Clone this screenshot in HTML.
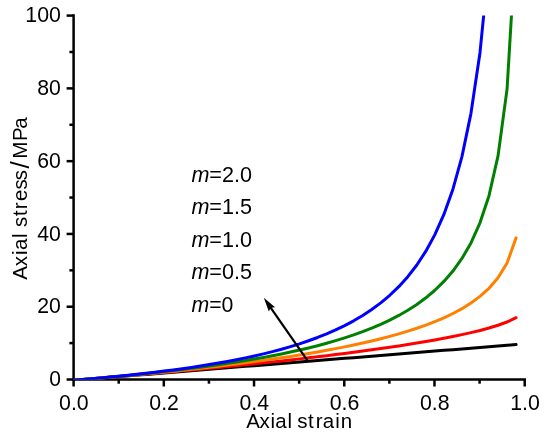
<!DOCTYPE html>
<html><head><meta charset="utf-8"><title>Axial stress vs axial strain</title>
<style>
html,body{margin:0;padding:0;background:#fff;}
svg{display:block;}
text{font-family:"Liberation Sans",sans-serif;font-size:21.3px;fill:#000;}
</style></head><body>
<svg width="550" height="435" viewBox="0 0 550 435">
<rect width="550" height="435" fill="#fff"/>
<defs><clipPath id="plot"><rect x="73.60" y="15.60" width="461.10" height="364.10"/></clipPath></defs>
<g stroke="#000" stroke-width="2.5" stroke-linecap="butt">
<line x1="73.60" y1="14.35" x2="73.60" y2="380.75"/>
<line x1="72.35" y1="379.50" x2="525.95" y2="379.50"/>
<line x1="73.60" y1="379.50" x2="73.60" y2="386.50"/>
<line x1="118.71" y1="379.50" x2="118.71" y2="383.70"/>
<line x1="163.82" y1="379.50" x2="163.82" y2="386.50"/>
<line x1="208.93" y1="379.50" x2="208.93" y2="383.70"/>
<line x1="254.04" y1="379.50" x2="254.04" y2="386.50"/>
<line x1="299.15" y1="379.50" x2="299.15" y2="383.70"/>
<line x1="344.26" y1="379.50" x2="344.26" y2="386.50"/>
<line x1="389.37" y1="379.50" x2="389.37" y2="383.70"/>
<line x1="434.48" y1="379.50" x2="434.48" y2="386.50"/>
<line x1="479.59" y1="379.50" x2="479.59" y2="383.70"/>
<line x1="524.70" y1="379.50" x2="524.70" y2="386.50"/>
<line x1="73.60" y1="379.50" x2="66.60" y2="379.50"/>
<line x1="73.60" y1="343.11" x2="69.40" y2="343.11"/>
<line x1="73.60" y1="306.72" x2="66.60" y2="306.72"/>
<line x1="73.60" y1="270.33" x2="69.40" y2="270.33"/>
<line x1="73.60" y1="233.94" x2="66.60" y2="233.94"/>
<line x1="73.60" y1="197.55" x2="69.40" y2="197.55"/>
<line x1="73.60" y1="161.16" x2="66.60" y2="161.16"/>
<line x1="73.60" y1="124.77" x2="69.40" y2="124.77"/>
<line x1="73.60" y1="88.38" x2="66.60" y2="88.38"/>
<line x1="73.60" y1="51.99" x2="69.40" y2="51.99"/>
<line x1="73.60" y1="15.60" x2="66.60" y2="15.60"/>
</g>
<g clip-path="url(#plot)">
<polyline points="74.00,380.20 83.02,379.47 92.04,378.74 101.07,378.02 110.09,377.29 119.11,376.56 128.13,375.83 137.15,375.11 146.18,374.38 155.20,373.65 164.22,372.92 173.24,372.19 182.26,371.47 191.29,370.74 200.31,370.01 209.33,369.28 218.35,368.56 227.37,367.83 236.40,367.10 245.42,366.37 254.44,365.64 263.46,364.92 272.48,364.19 281.51,363.46 290.53,362.73 299.55,362.00 308.57,361.28 317.59,360.55 326.62,359.82 335.64,359.09 344.66,358.37 353.68,357.64 362.70,356.91 371.73,356.18 380.75,355.45 389.77,354.73 398.79,354.00 407.81,353.27 416.84,352.54 425.86,351.82 434.88,351.09 443.90,350.36 452.92,349.63 461.95,348.90 470.97,348.18 479.99,347.45 489.01,346.72 498.03,345.99 507.06,345.27 516.08,344.54" fill="none" stroke="#000000" stroke-width="3" stroke-linejoin="round" stroke-linecap="round"/>
<polyline points="74.00,380.20 83.02,379.47 92.04,378.73 101.07,377.98 110.09,377.23 119.11,376.47 128.13,375.69 137.15,374.91 146.18,374.12 155.20,373.33 164.22,372.52 173.24,371.70 182.26,370.87 191.29,370.03 200.31,369.18 209.33,368.31 218.35,367.44 227.37,366.55 236.40,365.64 245.42,364.73 254.44,363.80 263.46,362.85 272.48,361.88 281.51,360.90 290.53,359.90 299.55,358.88 308.57,357.84 317.59,356.78 326.62,355.70 335.64,354.59 344.66,353.45 353.68,352.28 362.70,351.09 371.73,349.86 380.75,348.59 389.77,347.28 398.79,345.93 407.81,344.53 416.84,343.07 425.86,341.56 434.88,339.97 443.90,338.30 452.92,336.53 461.95,334.65 470.97,332.63 479.99,330.44 489.01,328.01 498.03,325.25 507.06,321.98 516.08,317.71" fill="none" stroke="#ff0000" stroke-width="3" stroke-linejoin="round" stroke-linecap="round"/>
<polyline points="74.00,380.20 83.02,379.46 92.04,378.71 101.07,377.95 110.09,377.17 119.11,376.37 128.13,375.55 137.15,374.71 146.18,373.86 155.20,372.98 164.22,372.08 173.24,371.16 182.26,370.21 191.29,369.24 200.31,368.25 209.33,367.22 218.35,366.17 227.37,365.08 236.40,363.96 245.42,362.80 254.44,361.61 263.46,360.38 272.48,359.10 281.51,357.78 290.53,356.40 299.55,354.98 308.57,353.49 317.59,351.94 326.62,350.32 335.64,348.63 344.66,346.86 353.68,344.99 362.70,343.02 371.73,340.94 380.75,338.74 389.77,336.39 398.79,333.88 407.81,331.18 416.84,328.27 425.86,325.10 434.88,321.63 443.90,317.80 452.92,313.51 461.95,308.65 470.97,303.04 479.99,296.41 489.01,288.29 498.03,277.82 507.06,263.07 516.08,237.84" fill="none" stroke="#ff8000" stroke-width="3" stroke-linejoin="round" stroke-linecap="round"/>
<polyline points="74.00,380.20 83.02,379.46 92.04,378.70 101.07,377.91 110.09,377.10 119.11,376.26 128.13,375.40 137.15,374.50 146.18,373.57 155.20,372.61 164.22,371.61 173.24,370.57 182.26,369.50 191.29,368.37 200.31,367.21 209.33,365.99 218.35,364.72 227.37,363.39 236.40,362.00 245.42,360.55 254.44,359.02 263.46,357.42 272.48,355.72 281.51,353.94 290.53,352.05 299.55,350.05 308.57,347.93 317.59,345.67 326.62,343.26 335.64,340.68 344.66,337.90 353.68,334.92 362.70,331.68 371.73,328.16 380.75,324.32 389.77,320.10 398.79,315.44 407.81,310.25 416.84,304.42 425.86,297.81 434.88,290.24 443.90,281.44 452.92,271.03 461.95,258.47 470.97,242.88 479.99,222.83 489.01,195.66 498.03,155.86 507.06,89.08 516.08,-61.65" fill="none" stroke="#008000" stroke-width="3" stroke-linejoin="round" stroke-linecap="round"/>
<polyline points="74.00,380.20 83.02,379.46 92.04,378.68 101.07,377.88 110.09,377.04 119.11,376.16 128.13,375.24 137.15,374.28 146.18,373.27 155.20,372.21 164.22,371.10 173.24,369.94 182.26,368.71 191.29,367.41 200.31,366.05 209.33,364.60 218.35,363.08 227.37,361.45 236.40,359.73 245.42,357.90 254.44,355.94 263.46,353.85 272.48,351.61 281.51,349.20 290.53,346.61 299.55,343.81 308.57,340.78 317.59,337.48 326.62,333.89 335.64,329.95 344.66,325.62 353.68,320.83 362.70,315.51 371.73,309.56 380.75,302.87 389.77,295.29 398.79,286.63 407.81,276.63 416.84,264.96 425.86,251.18 434.88,234.64 443.90,214.42 452.92,189.15 461.95,156.66 470.97,113.34 479.99,52.69 489.01,-38.29 498.03,-189.91 507.06,-493.16 516.08,-1402.91" fill="none" stroke="#0000ff" stroke-width="3" stroke-linejoin="round" stroke-linecap="round"/>
</g>
<line x1="307.70" y1="360.80" x2="268.37" y2="304.36" stroke="#000" stroke-width="2.2"/><polygon points="263.80,297.80 275.04,307.28 270.66,307.65 268.80,311.62" fill="#000"/>
<g>
<text x="73.90" y="409.7" text-anchor="middle" textLength="29.6" lengthAdjust="spacingAndGlyphs">0.0</text>
<text x="164.12" y="409.7" text-anchor="middle" textLength="29.6" lengthAdjust="spacingAndGlyphs">0.2</text>
<text x="254.34" y="409.7" text-anchor="middle" textLength="29.6" lengthAdjust="spacingAndGlyphs">0.4</text>
<text x="344.56" y="409.7" text-anchor="middle" textLength="29.6" lengthAdjust="spacingAndGlyphs">0.6</text>
<text x="434.78" y="409.7" text-anchor="middle" textLength="29.6" lengthAdjust="spacingAndGlyphs">0.8</text>
<text x="525.00" y="409.7" text-anchor="middle" textLength="29.6" lengthAdjust="spacingAndGlyphs">1.0</text>
<text x="60.9" y="386.10" text-anchor="end" textLength="11.7" lengthAdjust="spacingAndGlyphs">0</text>
<text x="60.9" y="313.32" text-anchor="end" textLength="23.6" lengthAdjust="spacingAndGlyphs">20</text>
<text x="60.9" y="240.54" text-anchor="end" textLength="23.6" lengthAdjust="spacingAndGlyphs">40</text>
<text x="60.9" y="167.76" text-anchor="end" textLength="23.6" lengthAdjust="spacingAndGlyphs">60</text>
<text x="60.9" y="94.98" text-anchor="end" textLength="23.6" lengthAdjust="spacingAndGlyphs">80</text>
<text x="60.9" y="22.20" text-anchor="end" textLength="35.6" lengthAdjust="spacingAndGlyphs">100</text>
<text x="191.4" y="181.80" textLength="60.6" lengthAdjust="spacingAndGlyphs"><tspan font-style="italic">m</tspan>=2.0</text>
<text x="191.4" y="214.30" textLength="60.6" lengthAdjust="spacingAndGlyphs"><tspan font-style="italic">m</tspan>=1.5</text>
<text x="191.4" y="246.80" textLength="60.6" lengthAdjust="spacingAndGlyphs"><tspan font-style="italic">m</tspan>=1.0</text>
<text x="191.4" y="279.30" textLength="60.6" lengthAdjust="spacingAndGlyphs"><tspan font-style="italic">m</tspan>=0.5</text>
<text x="191.4" y="311.80" textLength="42.0" lengthAdjust="spacingAndGlyphs"><tspan font-style="italic">m</tspan>=0</text>
<text x="246.33 259.57 270.55 275.21 287.39 296.39 297.23 307.93 315.85 322.71 335.14 340.71" y="428" style="font-size:20.5px">Axial strain</text>
<text transform="translate(26.5 279) rotate(-90)" x="-0.67 12.68 24.00 29.06 41.04 50.04 51.98 63.13 69.65 77.96 89.43 98.78 110.53 120.19 137.98 150.26" y="0" style="font-size:20.5px">Axial stress<tspan style="font-size:26.5px" dy="2.8">/</tspan><tspan dy="-2.8">MPa</tspan></text>
</g>
</svg>
</body></html>
